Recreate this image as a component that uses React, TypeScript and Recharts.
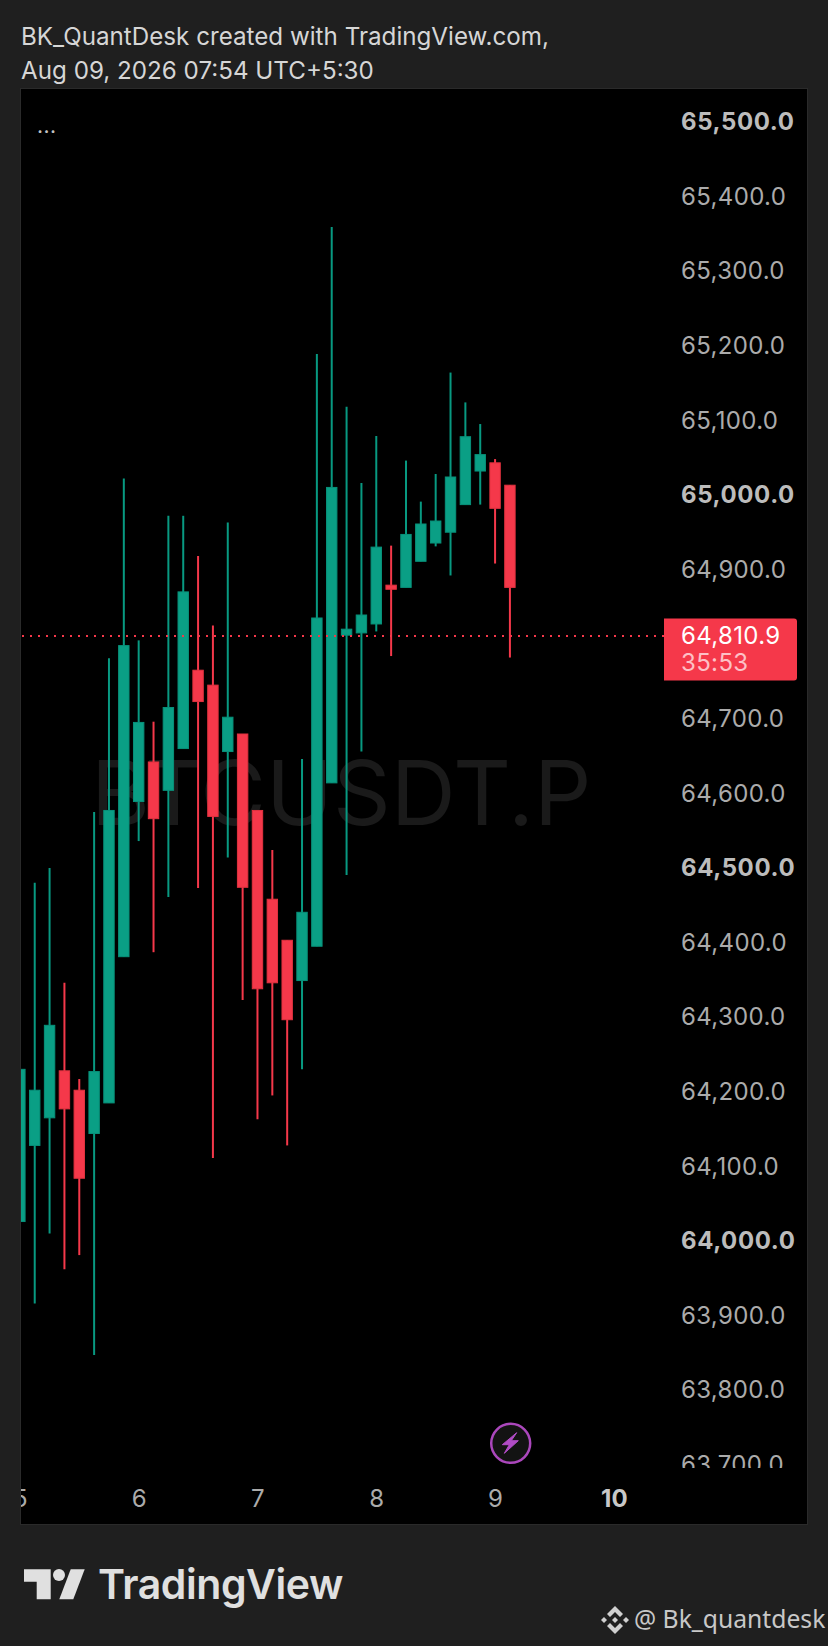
import React from "react";
import {
  Bar,
  ComposedChart,
  ReferenceLine,
  XAxis,
  YAxis,
} from "recharts";

// 3h candles, index 0 is the first candle on the 5th
const opens = [64026, 64128, 64165, 64228, 64202, 64144, 64185, 64381, 64589, 64642, 64604, 64660, 64765, 64745, 64656, 64679.5, 64577, 64458, 64403, 64349, 64395, 64614, 64812, 64815, 64827, 64879, 64876, 64911, 64935.5, 64950, 64987, 65032, 65043, 65013];
const highs = [64511.5, 64480, 64500, 64346, 64217, 64575, 64781, 65022, 64805, 64696, 64972, 64972, 64918, 64825, 64963, 64679.5, 64577, 64524, 64403, 64646, 65189, 65359, 65118, 65016, 65079, 64932, 65046, 64991, 65028, 65164, 65124, 65095, 65048, 65013];
const lows = [64017, 63916, 64010, 63962, 63981, 63847, 64185, 64381, 64536, 64387, 64461, 64660, 64473, 64111, 64514, 64323, 64163, 64195, 64128, 64230, 64395, 64614, 64490.5, 64656, 64817, 64784, 64876, 64911, 64931, 64892, 64987, 64987, 64908, 64782];
const closes = [64230, 64202, 64289, 64177, 64084, 64227, 64577, 64798, 64695, 64566, 64715, 64870, 64723, 64569, 64702, 64474, 64338, 64346, 64296.5, 64440.5, 64835, 65010, 64820, 64839, 64930, 64873.5, 64947, 64961, 64965, 65024, 65078, 65054, 64982, 64876];

const priceTicks = [65500, 65400, 65300, 65200, 65100, 65000, 64900, 64700, 64600, 64500, 64400, 64300, 64200, 64100, 64000, 63900, 63800, 63700];
const boldPrices = [65500, 65000, 64500, 64000];
const dayTicks = [0, 8, 16, 24, 32, 40];
const dayLabels = ["5", "6", "7", "8", "9", "10"];

const lastPrice = 64810.9;
const lastPriceLabel = "64,810.9";
const countdown = "35:53";

const UP = "#0a9f85";
const UP_EDGE = "#08917a";
const UP_WICK = "#089981";
const DOWN = "#f5384a";
const DOWN_EDGE = "#e2323f";
const FONT = "Inter, sans-serif";

const candles = opens.map((open, i) => ({
  i,
  open,
  close: closes[i],
  high: highs[i],
  low: lows[i],
  range: [lows[i], highs[i]],
}));

function Candle(props: any) {
  const { x, y, width, height, payload } = props;
  const { open, close, high, low } = payload;
  const perPrice = height / (high - low);
  const cx = x + width / 2;
  const isUp = close >= open;
  const bodyTop = y + (high - Math.max(open, close)) * perPrice;
  const bodyBottom = y + (high - Math.min(open, close)) * perPrice;
  return (
    <g>
      <line
        x1={cx}
        x2={cx}
        y1={y}
        y2={y + height}
        stroke={isUp ? UP_WICK : DOWN}
        strokeWidth={2}
      />
      <rect
        x={cx - 5.2}
        y={bodyTop}
        width={10.4}
        height={bodyBottom - bodyTop}
        fill={isUp ? UP : DOWN}
        stroke={isUp ? UP_EDGE : DOWN_EDGE}
        strokeWidth={1}
      />
    </g>
  );
}

function PriceTick(props: any) {
  const { y, payload } = props;
  const bold = boldPrices.includes(payload.value);
  const id = `price-clip-${payload.value}`;
  return (
    <g>
      <clipPath id={id}>
        <rect x={643} y={0} width={143} height={1379} />
      </clipPath>
      <text
        x={660}
        y={y + 8.2}
        clipPath={`url(#${id})`}
        fontFamily={FONT}
        fontSize={24}
        letterSpacing={bold ? 0.6 : 0.35}
        fontWeight={bold ? 700 : 400}
        fill={bold ? "#bcbcbc" : "#ababab"}
      >
        {payload.value.toLocaleString("en-US", {
          minimumFractionDigits: 1,
        })}
      </text>
    </g>
  );
}

function DayTick(props: any) {
  const { x, payload } = props;
  const idx = dayTicks.indexOf(payload.value);
  const label = dayLabels[idx];
  return (
    <text
      x={x}
      y={1418}
      textAnchor="middle"
      fontFamily={FONT}
      fontSize={24}
      fontWeight={label === "10" ? 700 : 400}
      fill={label === "10" ? "#c8c8c8" : "#ababab"}
    >
      {label}
    </text>
  );
}

function PriceTag(props: any) {
  const y = props.viewBox.y;
  return (
    <g>
      <path
        d={`M643 ${y - 17.5}H773a3 3 0 0 1 3 3V${y + 41.5}a3 3 0 0 1 -3 3H643Z`}
        fill={DOWN}
      />
      <text x={660} y={y + 8} fontFamily={FONT} fontSize={24} letterSpacing={0.35} fill="#ffffff">
        {lastPriceLabel}
      </text>
      <text x={660} y={y + 35} fontFamily={FONT} fontSize={24} letterSpacing={0.35} fill="#fdc0c6">
        {countdown}
      </text>
    </g>
  );
}

export default function App() {
  return (
    <div
      style={{
        position: "absolute",
        left: 0,
        top: 0,
        width: 828,
        height: 1646,
        background: "#1f1f1f",
        overflow: "hidden",
        fontFamily: FONT,
      }}
    >
      <div style={{ position: "absolute", left: 21, top: 19.5, fontSize: 24.2, lineHeight: "34.5px", color: "#d6d6d6", whiteSpace: "nowrap" }}>
        BK_QuantDesk created with TradingView.com,
        <br />
        Aug 09, 2026 07:54 UTC+5:30
      </div>

      <div style={{ position: "absolute", left: 20, top: 88, width: 786, height: 1435, background: "#000", border: "1px solid #2a2a2a" }} />

      <div style={{ position: "absolute", left: 91, top: 738, fontSize: 90, lineHeight: "110px", color: "#1a1a1a", whiteSpace: "nowrap" }}>
        BTCUSDT.P
      </div>

      <div style={{ position: "absolute", left: 37, top: 114, fontSize: 21, lineHeight: "24px", letterSpacing: 0.5, color: "#c4c4c4" }}>...</div>

      <div style={{ position: "absolute", left: 21, top: 89 }}>
        <ComposedChart
          width={786}
          height={1435}
          data={candles}
          margin={{ top: 0, right: 0, bottom: 0, left: 0 }}
        >
          <XAxis
            dataKey="i"
            type="number"
            domain={[0.047, 43.347]}
            allowDataOverflow
            ticks={dayTicks}
            interval={0}
            height={56}
            axisLine={false}
            tickLine={false}
            tick={<DayTick />}
          />
          <YAxis
            type="number"
            orientation="right"
            domain={[63695.6, 65544.1]}
            allowDataOverflow
            ticks={priceTicks}
            interval={0}
            width={143}
            axisLine={false}
            tickLine={false}
            tick={<PriceTick />}
          />
          <ReferenceLine
            y={lastPrice}
            stroke={DOWN}
            strokeWidth={2}
            strokeDasharray="2 6"
            label={<PriceTag />}
          />
          <Bar
            dataKey="range"
            barSize={12}
            shape={<Candle />}
            isAnimationActive={false}
          />
        </ComposedChart>
      </div>

      <svg style={{ position: "absolute", left: 0, top: 0 }} width={828} height={1646}>
        {/* replay badge */}
        <circle cx={510.7} cy={1443.3} r={19.5} fill="#131313" stroke="#ab47bc" strokeWidth={2.5} />
        <path
          d="M516.7 1432.7L502.3 1444.7H509.3L504.3 1453.3L518.3 1440.7H511.3Z"
          fill="#b14cc6"
          stroke="#b14cc6"
          strokeWidth={1}
          strokeLinejoin="round"
        />
        {/* TradingView mark */}
        <path d="M24 1569.3H50.7V1599.3H36.7V1581.7H24Z" fill="#e0e0e0" />
        <circle cx={59} cy={1575} r={6} fill="#e0e0e0" />
        <path d="M70.7 1569.3H84.7L73.3 1599.3H59.3Z" fill="#e0e0e0" />
        <text x={98} y={1599.3} fontFamily={FONT} fontSize={41} fontWeight={600} fill="#e0e0e0" letterSpacing={-0.45}>
          TradingView
        </text>
        {/* binance mark */}
        <g fill="#d0d0d0" transform="translate(615 1620)">
          <path d="M0 -14L8 -6L5 -3L0 -8L-5 -3L-8 -6Z" />
          <path d="M0 14L8 6L5 3L0 8L-5 3L-8 6Z" />
          <path d="M0 -3L3 0L0 3L-3 0Z" />
          <path d="M-14 0L-11 -3L-8 0L-11 3Z" />
          <path d="M14 0L11 -3L8 0L11 3Z" />
        </g>
        <text x={634} y={1628} fontFamily="'Noto Sans', sans-serif" fontSize={24.7} fill="#c8c8c8">
          @ Bk_quantdesk
        </text>
      </svg>
    </div>
  );
}
